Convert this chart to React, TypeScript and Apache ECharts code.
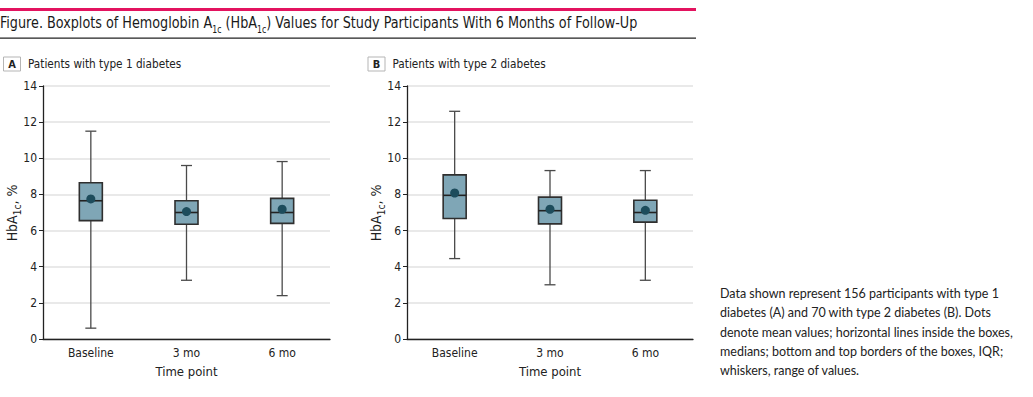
import React, { useEffect, useRef } from "react";
import * as echarts from "echarts";

const categories = ["Baseline", "3 mo", "6 mo"];
const yMin = 0;
const yMax = 14;
const yInterval = 2;

// Panel A: type 1 diabetes
const t1Min = [0.6, 3.25, 2.4];
const t1Q1 = [6.55, 6.35, 6.4];
const t1Median = [7.65, 7.0, 7.0];
const t1Q3 = [8.65, 7.65, 7.78];
const t1Max = [11.5, 9.6, 9.82];
const t1Mean = [7.75, 7.05, 7.18];

// Panel B: type 2 diabetes
const t2Min = [4.45, 3.0, 3.25];
const t2Q1 = [6.67, 6.37, 6.47];
const t2Median = [7.95, 7.1, 7.0];
const t2Q3 = [9.08, 7.85, 7.68];
const t2Max = [12.6, 9.32, 9.32];
const t2Mean = [8.08, 7.18, 7.12];

const footnoteLines = [
  "Data shown represent 156 participants with type 1",
  "diabetes (A) and 70 with type 2 diabetes (B). Dots",
  "denote mean values; horizontal lines inside the boxes,",
  "medians; bottom and top borders of the boxes, IQR;",
  "whiskers, range of values.",
];

const COND = "'Liberation Sans Narrow', 'DejaVu Sans Condensed', Roboto, sans-serif";
const BODY = "Lato, 'Open Sans', sans-serif";

function rows(mn: number[], q1: number[], md: number[], q3: number[], mx: number[], mean: number[]) {
  return categories.map((_, i) => [i, mn[i], q1[i], md[i], q3[i], mx[i], mean[i]]);
}

const renderBox = (params: any, api: any) => {
  const i = api.value(0);
  const pMin = api.coord([i, api.value(1)]);
  const pQ1 = api.coord([i, api.value(2)]);
  const pMed = api.coord([i, api.value(3)]);
  const pQ3 = api.coord([i, api.value(4)]);
  const pMax = api.coord([i, api.value(5)]);
  const pMean = api.coord([i, api.value(6)]);
  const cx = pMed[0];
  const bw = 23;
  const cap = 11;
  const lineStyle = { stroke: "#4a4a4a", lineWidth: 1.3 };
  return {
    type: "group",
    children: [
      { type: "line", shape: { x1: cx, y1: pMin[1], x2: cx, y2: pMax[1] }, style: lineStyle },
      { type: "line", shape: { x1: cx - cap / 2, y1: pMin[1], x2: cx + cap / 2, y2: pMin[1] }, style: lineStyle },
      { type: "line", shape: { x1: cx - cap / 2, y1: pMax[1], x2: cx + cap / 2, y2: pMax[1] }, style: lineStyle },
      {
        type: "rect",
        shape: { x: cx - bw / 2, y: pQ3[1], width: bw, height: pQ1[1] - pQ3[1] },
        style: { fill: "#7fa6b6", stroke: "#2f2f2f", lineWidth: 1.6 },
      },
      { type: "line", shape: { x1: cx - bw / 2, y1: pMed[1], x2: cx + bw / 2, y2: pMed[1] }, style: { stroke: "#222", lineWidth: 1.6 } },
      { type: "circle", shape: { cx: cx, cy: pMean[1], r: 4.5 }, style: { fill: "#1d4c5c" } },
    ],
  };
};

function xAxisFor(gridIndex: number) {
  return {
    type: "category",
    gridIndex,
    data: categories,
    name: "Time point",
    nameLocation: "middle",
    nameGap: 26,
    nameTextStyle: { fontFamily: COND, fontSize: 13, color: "#222" },
    axisLine: { lineStyle: { color: "#222", width: 1.3 } },
    axisTick: { show: false },
    axisLabel: { fontFamily: COND, fontSize: 12, color: "#222", margin: 8 },
    splitLine: { show: false },
  };
}

function yAxisFor(gridIndex: number) {
  return {
    type: "value",
    gridIndex,
    min: yMin,
    max: yMax,
    interval: yInterval,
    axisLine: { show: true, lineStyle: { color: "#222", width: 1.3 } },
    axisTick: { show: true, length: 4, lineStyle: { color: "#222" } },
    axisLabel: { fontFamily: COND, fontSize: 12, color: "#222", margin: 6 },
    splitLine: { show: true, lineStyle: { color: "#e2e2e2", width: 1.5 } },
  };
}

function yName(x: number) {
  return {
    type: "text",
    x: x,
    y: 213,
    rotation: Math.PI / 2,
    style: {
      text: "{n|HbA}{s|1c}{n|, %}",
      align: "center",
      verticalAlign: "middle",
      rich: {
        n: { fontFamily: COND, fontSize: 14, fill: "#222", lineHeight: 20, verticalAlign: "middle" },
        s: { fontFamily: COND, fontSize: 10, fill: "#222", lineHeight: 10, verticalAlign: "bottom" },
      },
    },
  };
}

function panelLabel(x: number, letter: string, text: string) {
  return [
    {
      type: "rect",
      shape: { x: x, y: 57, width: 17, height: 14 },
      style: { fill: "#fff", stroke: "#b5b5b5", lineWidth: 1 },
    },
    {
      type: "text",
      x: x + 8.5,
      y: 64.5,
      style: { text: letter, fontFamily: COND, fontWeight: "bold", fontSize: 11, fill: "#222", align: "center", verticalAlign: "middle" },
    },
    {
      type: "text",
      x: x + 24.5,
      y: 64,
      scaleX: 0.9,
      style: { text: text, fontFamily: COND, fontSize: 13, fill: "#222", align: "left", verticalAlign: "middle" },
    },
  ];
}

export default function App() {
  const ref = useRef<HTMLDivElement>(null);
  useEffect(() => {
    if (!ref.current) return;
    const chart = echarts.init(ref.current, undefined, { renderer: "svg" });
    chart.setOption({
      animation: false,
      backgroundColor: "#fff",
      grid: [
        { left: 43, right: 1033 - 330, top: 86, bottom: 397 - 339 },
        { left: 407, right: 1033 - 693, top: 86, bottom: 397 - 339 },
      ],
      xAxis: [xAxisFor(0), xAxisFor(1)],
      yAxis: [yAxisFor(0), yAxisFor(1)],
      series: [
        {
          type: "custom",
          xAxisIndex: 0,
          yAxisIndex: 0,
          renderItem: renderBox,
          encode: { x: 0, y: [1, 2, 3, 4, 5, 6] },
          data: rows(t1Min, t1Q1, t1Median, t1Q3, t1Max, t1Mean),
        },
        {
          type: "custom",
          xAxisIndex: 1,
          yAxisIndex: 1,
          renderItem: renderBox,
          encode: { x: 0, y: [1, 2, 3, 4, 5, 6] },
          data: rows(t2Min, t2Q1, t2Median, t2Q3, t2Max, t2Mean),
        },
      ],
      graphic: [
        { type: "rect", shape: { x: 0, y: 8, width: 696, height: 3 }, style: { fill: "#e3135f" } },
        {
          type: "text",
          x: 0,
          y: 23,
          scaleX: 0.862,
          style: {
            text: "{t|Figure. Boxplots of Hemoglobin A}{s|1c}{t| (HbA}{s|1c}{t|) Values for Study Participants With 6 Months of Follow-Up}",
            align: "left",
            verticalAlign: "middle",
            rich: {
              t: { fontFamily: COND, fontSize: 16.5, fill: "#1a1a1a", lineHeight: 22, verticalAlign: "middle" },
              s: { fontFamily: COND, fontSize: 10, fill: "#1a1a1a", lineHeight: 10, verticalAlign: "bottom" },
            },
          },
        },
        { type: "rect", shape: { x: 0, y: 37.5, width: 696, height: 1.2 }, style: { fill: "#222" } },
        ...panelLabel(3.5, "A", "Patients with type 1 diabetes"),
        ...panelLabel(368, "B", "Patients with type 2 diabetes"),
        yName(12),
        yName(376),
        {
          type: "text",
          x: 720,
          y: 284,
          style: {
            text: footnoteLines.join("\n"),
            fontFamily: BODY,
            fontSize: 12.5,
            lineHeight: 19.2,
            fill: "#222",
            align: "left",
            verticalAlign: "top",
          },
        },
      ],
    });
    return () => chart.dispose();
  }, []);
  return <div ref={ref} style={{ position: "fixed", left: 0, top: 0, width: 1033, height: 397 }} />;
}
